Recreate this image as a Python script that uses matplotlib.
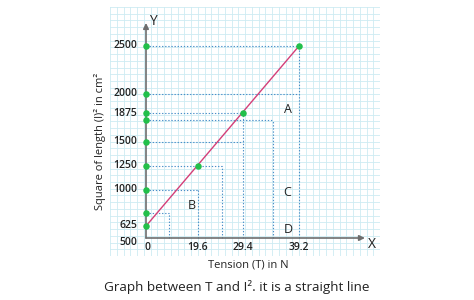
import numpy as np
import matplotlib.pyplot as plt

plt.rcParams["font.family"] = ["Open Sans", "DejaVu Sans"]

# schematic positions (the original drawing is not to scale on the T axis)
tension_labels = ["0", "19.6", "29.4", "39.2"]
tension_pos = [0, 13.3, 24.9, 39.2]

length_labels = ["500", "625", "1000", "1250", "1500", "1875", "2000", "2500"]
length_pos = [500, 625, 1000, 1250, 1500, 1800, 2000, 2500]

# green dots on the Y axis
axis_dots = [625, 760, 1000, 1250, 1500, 1730, 1800, 2000, 2500]

# points on the straight line
line_x = [0, 13.3, 24.9, 39.2]
line_y = [625, 1250, 1800, 2500]

# dotted guide lines: level on Y axis and where they stop on X
guide_y = [2500, 2000, 1800, 1730, 1500, 1250, 1000, 760]
guide_x = [39.2, 39.2, 24.9, 32.6, 24.9, 19.5, 13.3, 5.9]

letters = ["A", "B", "C", "D"]
letter_x = [36.4, 11.6, 36.2, 36.4]
letter_y = [1840, 840, 970, 590]

fig = plt.figure(figsize=(4.74, 3.0), dpi=100)
rect = [110 / 474, 44 / 300, 270 / 474, 249 / 300]

# graph-paper background
bg = fig.add_axes(rect)
bg.set_xlim(0, 40)
bg.set_ylim(0, 37)
for v in np.arange(0, 41):
    bg.axvline(v, color="#cdebf2", lw=0.6, zorder=0)
for v in np.arange(0, 38):
    bg.axhline(v, color="#cdebf2", lw=0.6, zorder=0)
bg.axis("off")

ax = fig.add_axes(rect)
ax.patch.set_alpha(0)
ax.set_xlim(-36 / 3.903, 234 / 3.903)
ax.set_ylim(500 - 18 / 0.096, 500 + 231 / 0.096)
ax.axis("off")

guide_color = "#4b8fc8"
dot = (0, (1.2, 1.6))
for gx, gy in zip(guide_x, guide_y):
    ax.plot([0, gx], [gy, gy], color=guide_color, lw=0.8, ls=dot, zorder=2)
for gx in sorted(set(guide_x)):
    top = max(y for x, y in zip(guide_x, guide_y) if x == gx)
    ax.plot([gx, gx], [500, top], color=guide_color, lw=0.8, ls=dot, zorder=2)

# axes with arrows
ax.annotate("", xy=(56.1, 500), xytext=(0, 500),
            arrowprops=dict(arrowstyle="-|>", color="#6e6e6e", lw=1.2,
                            mutation_scale=8, shrinkA=0, shrinkB=0), zorder=3)
ax.annotate("", xy=(0, 2740), xytext=(0, 500),
            arrowprops=dict(arrowstyle="-|>", color="#6e6e6e", lw=1.2,
                            mutation_scale=8, shrinkA=0, shrinkB=0), zorder=3)
ax.text(57.9, 430, "X", fontsize=10, ha="center", va="center", color="#222222")
ax.text(1.8, 2760, "Y", fontsize=10, ha="center", va="center", color="#222222")

ax.plot([line_x[0], line_x[-1]], [line_y[0], line_y[-1]], color="#d43f78", lw=1.0, zorder=4)
ax.scatter(line_x[1:], line_y[1:], s=22, color="#22c04a", zorder=5, linewidths=0)
ax.scatter([0] * len(axis_dots), axis_dots, s=22, color="#22c04a", zorder=5, linewidths=0)

for lab, pos in zip(length_labels, length_pos):
    ax.text(-2.3, pos - (45 if lab == "500" else 0), lab, fontsize=7.5, ha="right", va="center",
            color="#222222", fontweight="semibold")
for lab, pos in zip(tension_labels, tension_pos):
    ax.text(pos + (0.4 if lab == "0" else 0), 400, lab, fontsize=7.5, ha="center", va="center",
            color="#222222", fontweight="semibold")

for lab, lx, ly in zip(letters, letter_x, letter_y):
    ax.text(lx, ly, lab, fontsize=9, ha="center", va="center", color="#222222")

fig.text(100 / 474, 1 - 141 / 300, "Square of length (l)² in cm²", rotation=90,
         fontsize=8, ha="center", va="center", color="#222222")
fig.text(248 / 474, 1 - 265 / 300, "Tension (T) in N", fontsize=8,
         ha="center", va="center", color="#222222")
fig.text(237 / 474, 1 - 287 / 300, "Graph between T and I². it is a straight line",
         fontsize=9.7, ha="center", va="center", color="#222222")

fig.savefig("out.png", dpi=100)
